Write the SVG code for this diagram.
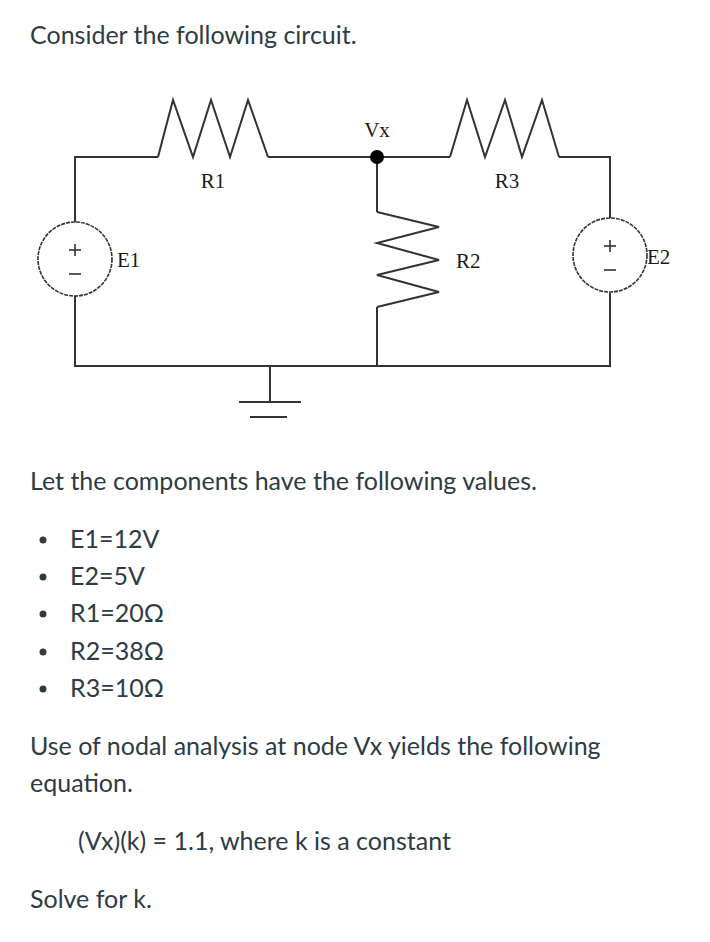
<svg xmlns="http://www.w3.org/2000/svg" width="710" height="942" viewBox="0 0 710 942">
<style>
.t{font-family:Lato,"Open Sans",sans-serif;font-size:25px;fill:#2d3b45}
.c{font-family:"Liberation Serif",serif;font-size:21px;fill:#1a1a1a}
.w{fill:none;stroke:#333;stroke-width:2}
.p{stroke:#333;stroke-width:1.6}
.src{fill:none;stroke:#333;stroke-width:1.6;stroke-dasharray:4,1}
</style>
<rect width="710" height="942" fill="#fff"/>
<text class="t" x="30" y="44">Consider the following circuit.</text>
<g id="connectors" class="w">
<polyline points="75,222 75,157 158,157"/>
<polyline points="268,157 450,157"/>
<polyline points="559,157 610,157 610,218"/>
<polyline points="377,157 377,212"/>
<polyline points="377,307 377,366"/>
<polyline points="75,296 75,366 610,366 610,293"/>
<polyline points="270,366 270,402"/>
</g>
<g id="R1"><polyline class="w" points="158,157 173,100 193,157 211,100 230,157 248,100 268,157"/><text class="c" x="213" y="188" text-anchor="middle">R1</text></g>
<g id="R3"><polyline class="w" points="450,157 467,100 485,157 505,100 522,157 542,100 559,157"/><text class="c" x="507" y="188" text-anchor="middle">R3</text></g>
<g id="R2"><polyline class="w" points="377,212 439,227 377,243 439,260 377,275 439,292 377,307"/><text class="c" x="456" y="268">R2</text></g>
<g id="Vx"><circle cx="377" cy="157" r="7" fill="#000"/><text class="c" x="377" y="137" text-anchor="middle">Vx</text></g>
<g id="E1"><circle class="src" cx="75" cy="259" r="37"/><line class="p" x1="69" y1="250" x2="81" y2="250"/><line class="p" x1="75" y1="244" x2="75" y2="256"/><line class="p" x1="69" y1="274" x2="81" y2="274"/><text class="c" x="117" y="267">E1</text></g>
<g id="E2"><circle class="src" cx="610" cy="255" r="37"/><line class="p" x1="604" y1="246" x2="616" y2="246"/><line class="p" x1="610" y1="240" x2="610" y2="252"/><line class="p" x1="604" y1="270" x2="616" y2="270"/><text class="c" x="647" y="264">E2</text></g>
<g id="ground" class="w"><line x1="239" y1="402" x2="301" y2="402"/><line x1="250" y1="417" x2="287" y2="417"/></g>
<text class="t" x="30" y="490">Let the components have the following values.</text>
<g fill="#2d3b45"><circle cx="43" cy="540" r="3.5"/><circle cx="43" cy="577" r="3.5"/><circle cx="43" cy="614" r="3.5"/><circle cx="43" cy="652" r="3.5"/><circle cx="43" cy="689" r="3.5"/></g>
<text class="t" x="70" y="548">E1=12V</text>
<text class="t" x="70" y="585">E2=5V</text>
<text class="t" x="70" y="622">R1=20Ω</text>
<text class="t" x="70" y="660">R2=38Ω</text>
<text class="t" x="70" y="697">R3=10Ω</text>
<text class="t" x="30" y="755">Use of nodal analysis at node Vx yields the following</text>
<text class="t" x="30" y="792">equation.</text>
<text class="t" x="78" y="850">(Vx)(k) = 1.1, where k is a constant</text>
<text class="t" x="30" y="908">Solve for k.</text>
</svg>
